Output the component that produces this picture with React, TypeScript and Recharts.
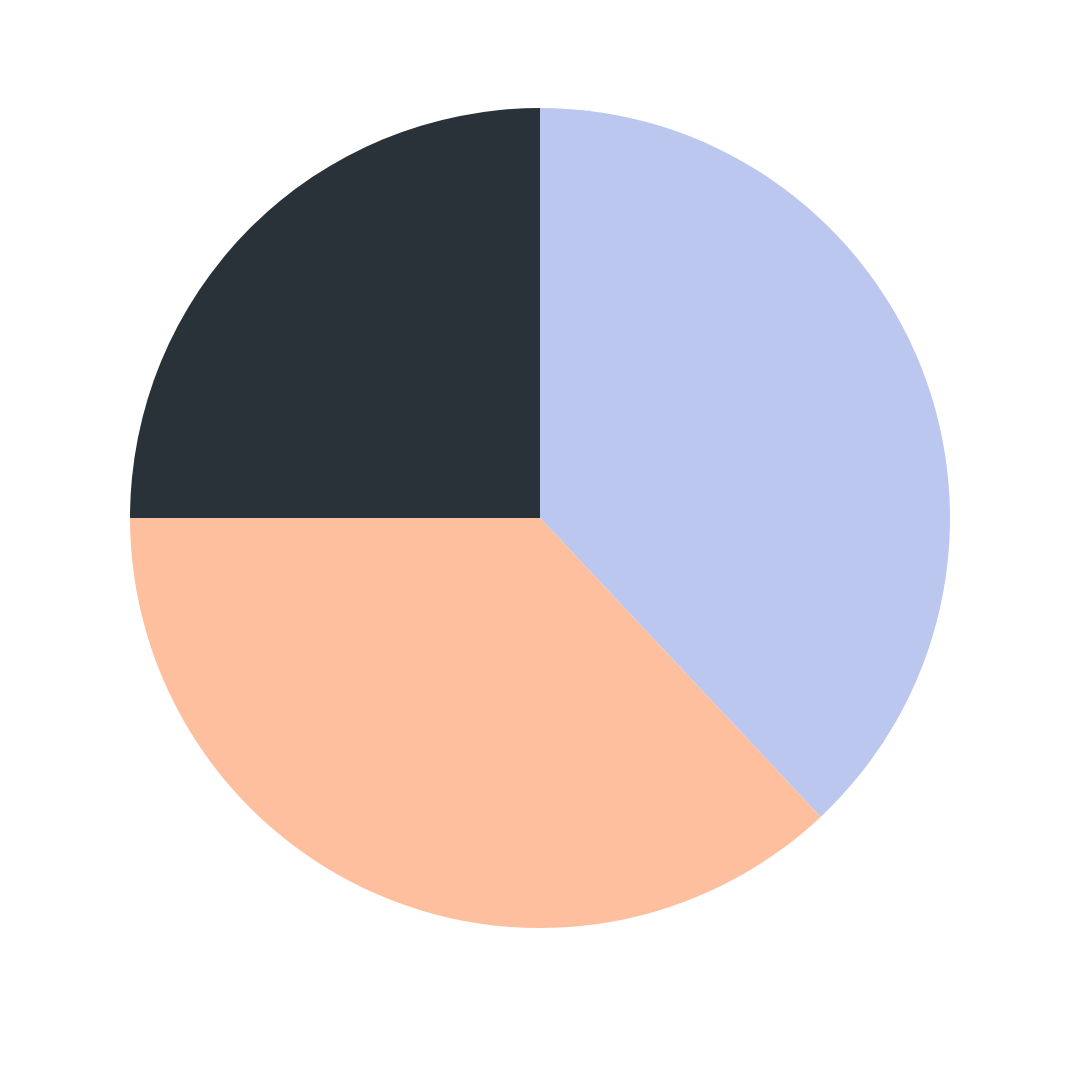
import React from "react";
import { PieChart, Pie, Cell } from "recharts";

// ─── DATA ─────────────────────────────────────────────────────────────────────

const LABELS = ["A", "B", "C"];
const VALUES = [38, 37, 25];
const COLORS = ["#bcc7f0", "#febf9f", "#283238"];

const pieData = LABELS.map((name, i) => ({ name, value: VALUES[i] }));

export default function App() {
    return (
        <div style={{ position: "fixed", top: 0, left: 0, width: 1080, height: 1080, background: "#ffffff" }}>
            <PieChart width={1080} height={1080} margin={{ top: 0, right: 0, bottom: 0, left: 0 }}>
                <Pie
                    data={pieData}
                    dataKey="value"
                    nameKey="name"
                    cx={540}
                    cy={518}
                    innerRadius={0}
                    outerRadius={410}
                    startAngle={90}
                    endAngle={-270}
                    stroke="none"
                    isAnimationActive={false}
                >
                    {pieData.map((_, i) => (
                        <Cell key={i} fill={COLORS[i]} />
                    ))}
                </Pie>
            </PieChart>
        </div>
    );
}
